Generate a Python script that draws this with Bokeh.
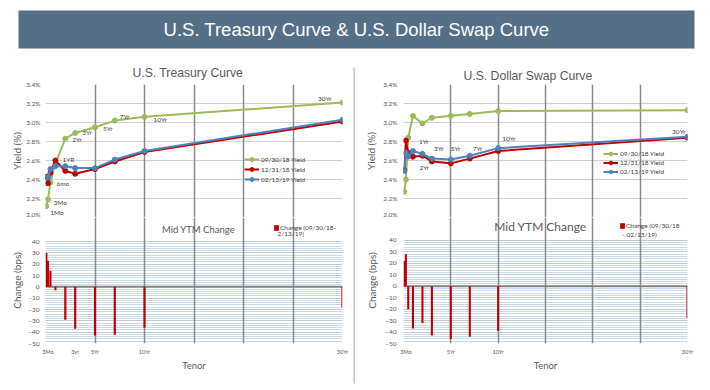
import numpy as np
from bokeh.plotting import figure
from bokeh.layouts import column, row
from bokeh.models import (Range1d, FixedTicker, PrintfTickFormatter, Label, Legend,
                          LegendItem, Span, ColumnDataSource, Title, Grid)
from bokeh.core.properties import value
from bokeh.embed import file_html
from bokeh.resources import INLINE

# ---------------- data ----------------
main_title = "U.S. Treasury Curve & U.S. Dollar Swap Curve"
series_names = ["09/30/18 Yield", "12/31/18 Yield", "02/13/19 Yield"]

# U.S. Treasury curve (tenor in years, yields in %)
tsy_tenor = [1 / 12, 0.25, 0.5, 1, 2, 3, 5, 7, 10, 30]
tsy_0930 = [2.12, 2.19, 2.37, 2.57, 2.83, 2.89, 2.95, 3.02, 3.06, 3.21]
tsy_1231 = [2.43, 2.36, 2.47, 2.60, 2.49, 2.46, 2.51, 2.59, 2.69, 3.01]
tsy_0213 = [2.42, 2.42, 2.51, 2.54, 2.54, 2.52, 2.52, 2.61, 2.70, 3.03]
tsy_change = [30, 23, 14, -3, -29, -37, -43, -42, -36, -18]
tsy_point_labels = ["1Mo", "3Mo", "6mo", "1YR", "2Yr", "3Yr", "5Yr", "7Yr", "10Yr", "30Yr"]
tsy_label_series = [0, 0, 0, 1, 0, 0, 0, 0, 0, 0]
tsy_xticks = [0.25, 3, 5, 10, 30]
tsy_xtick_labels = ["3Mo", "3yr", "5Yr", "10Yr", "30Yr"]
tsy_change_label = ["Change (09/30/18-", "2/13/19)"]

# U.S. Dollar swap curve
swp_tenor = [1 / 12, 0.25, 0.5, 1, 2, 3, 5, 7, 10, 30]
swp_0930 = [2.27, 2.40, 2.84, 3.07, 2.99, 3.05, 3.07, 3.09, 3.12, 3.13]
swp_1231 = [2.50, 2.81, 2.68, 2.64, 2.65, 2.59, 2.57, 2.62, 2.70, 2.84]
swp_0213 = [2.49, 2.68, 2.64, 2.70, 2.67, 2.62, 2.61, 2.65, 2.73, 2.85]
swp_change = [22, 28, -20, -37, -32, -43, -46, -44, -39, -28]
swp_point_labels = ["", "", "", "1Yr", "2Yr", "3Yr", "5Yr", "7Yr", "10Yr", "30Yr"]
swp_label_series = [2, 2, 2, 2, 1, 2, 2, 2, 2, 2]
swp_xticks = [0.25, 5, 10, 30]
swp_xtick_labels = ["3Mo", "5Yr", "10Yr", "30Yr"]
swp_change_label = ["Change (09/30/18", "- 02/13/19)"]

yield_ticks = [2.0, 2.2, 2.4, 2.6, 2.8, 3.0, 3.2, 3.4]
bps_ticks = [-50, -40, -30, -20, -10, 0, 10, 20, 30, 40]
tenor_grid = [0, 5, 10, 15, 20, 25, 30]

# ---------------- styles ----------------
COLORS = ["#9bbb59", "#c00000", "#4f81bd"]
BAR = "#c00000"
FONT = "Lato"
TFONT = "Liberation Sans"
GREY = "#595959"
DARK = "#404040"


def style_y(ax, label, tick_standoff, label_standoff):
    ax.axis_label = label
    ax.axis_label_text_font = FONT
    ax.axis_label_text_font_size = "10px"
    ax.axis_label_text_font_style = "normal"
    ax.axis_label_text_color = GREY
    ax.axis_label_standoff = label_standoff
    ax.major_label_text_font = FONT
    ax.major_label_text_font_size = "6.5px"
    ax.major_label_text_color = GREY
    ax.major_label_standoff = tick_standoff
    ax.axis_line_color = None
    ax.major_tick_line_color = None
    ax.minor_tick_line_color = None
    ax.major_tick_out = 0
    ax.major_tick_in = 0
    ax.minor_tick_out = 0


def grid_order(p):
    xg = p.xgrid[0]
    p.center = [r for r in p.center if r is not xg] + [xg]


def make_top(width, bl, br, tenor, series, labels, lab_series, offsets,
             title, title_offset, title_standoff, leg_loc, leg_row, tick_standoff,
             label_standoff):
    p = figure(width=width, height=159, x_range=Range1d(0, 30), y_range=Range1d(2.0, 3.4),
               x_axis_location=None, output_backend="svg", toolbar_location=None,
               min_border_left=bl, min_border_right=br, min_border_top=26, min_border_bottom=0,
               outline_line_color=None)
    p.title = Title(text=title, align="left", offset=title_offset, standoff=title_standoff,
                    text_font=TFONT, text_font_size="12.2px", text_font_style="normal",
                    text_color=GREY)
    p.yaxis.ticker = FixedTicker(ticks=yield_ticks)
    p.yaxis.formatter = PrintfTickFormatter(format="%.1f%%")
    style_y(p.yaxis[0], "Yield (%)", tick_standoff, label_standoff)
    p.ygrid.ticker = FixedTicker(ticks=yield_ticks)
    p.ygrid.grid_line_color = "#d0d0d0"
    p.ygrid.grid_line_width = 1
    p.xgrid.ticker = FixedTicker(ticks=tenor_grid)
    p.xgrid.grid_line_color = "#8a8a8a"
    p.xgrid.grid_line_width = 1.5
    grid_order(p)

    items = []
    for ys, c, n in zip(series, COLORS, series_names):
        l = p.line(tenor, ys, line_color=c, line_width=2)
        s = p.scatter(tenor, ys, marker="circle", size=5, fill_color=c, line_color=c)
        items.append(LegendItem(label=n, renderers=[l, s]))

    # point labels
    for align in ("left", "right"):
        xs, ys, ts, dx, dy = [], [], [], [], []
        for i, t in enumerate(labels):
            if not t or offsets[i][2] != align:
                continue
            xs.append(tenor[i])
            ys.append(series[lab_series[i]][i])
            ts.append(t)
            dx.append(offsets[i][0])
            dy.append(offsets[i][1])
        src = ColumnDataSource(dict(x=xs, y=ys, t=ts, dx=dx, dy=dy))
        p.text(x="x", y="y", text="t", x_offset="dx", y_offset="dy", source=src,
               text_font=value(FONT), text_font_size="6.5px", text_color=DARK,
               text_align=align, text_baseline="middle")

    leg = Legend(items=items, location=leg_loc, orientation="vertical", padding=0, margin=0,
                 spacing=0, glyph_width=15, glyph_height=leg_row, label_height=leg_row,
                 label_standoff=2, label_text_font=FONT, label_text_font_size="6.5px",
                 label_text_color=DARK, background_fill_alpha=0, border_line_color=None)
    p.add_layout(leg)
    return p


def make_bottom(width, bl, br, ytop, tenor, chg, xticks, xlabels, chg_label,
                mid_pos, mid_size, leg_loc, second_pos, tick_standoff, label_standoff):
    p = figure(width=width, height=173, x_range=Range1d(0, 30), y_range=Range1d(-50, ytop),
               output_backend="svg", toolbar_location=None,
               min_border_left=bl, min_border_right=br, min_border_top=0, min_border_bottom=47,
               outline_line_color=None)
    p.yaxis.ticker = FixedTicker(ticks=bps_ticks)
    style_y(p.yaxis[0], "Change (bps)", tick_standoff, label_standoff)
    ax = p.xaxis[0]
    ax.ticker = FixedTicker(ticks=xticks)
    ax.major_label_overrides = {k: v for k, v in zip(xticks, xlabels)}
    ax.major_label_text_font = FONT
    ax.major_label_text_font_size = "5.5px"
    ax.major_label_text_color = GREY
    ax.major_label_standoff = 5
    ax.major_tick_out = 0
    ax.major_tick_in = 0
    ax.minor_tick_out = 0
    ax.axis_label = "Tenor"
    ax.axis_label_text_font = FONT
    ax.axis_label_text_font_size = "9.5px"
    ax.axis_label_text_font_style = "normal"
    ax.axis_label_text_color = GREY
    ax.axis_label_standoff = 2
    ax.axis_line_color = None
    ax.major_tick_line_color = None
    ax.minor_tick_line_color = None

    # fine light-blue stripes with grey lines every 10 bps
    p.ygrid.ticker = FixedTicker(ticks=[float(v) for v in np.arange(-50, 40.01, 2)])
    p.ygrid.grid_line_color = "#c6dcee"
    p.ygrid.grid_line_width = 1
    p.add_layout(Grid(dimension=1, ticker=FixedTicker(ticks=bps_ticks),
                      grid_line_color="#c4c8cc", grid_line_width=1))
    p.xgrid.ticker = FixedTicker(ticks=tenor_grid)
    p.xgrid.grid_line_color = "#8a8a8a"
    p.xgrid.grid_line_width = 1.5
    grid_order(p)
    p.add_layout(Span(location=0, dimension="width", line_color="#808080", line_width=2,
                      level="underlay"))

    bars = p.vbar(x=tenor, top=chg, bottom=0, width=0.22, fill_color=BAR, line_color=None)
    leg = Legend(items=[LegendItem(label=chg_label[0], renderers=[bars])], location=leg_loc,
                 padding=0, margin=0, spacing=0, glyph_width=6, glyph_height=7,
                 label_height=8, label_standoff=1, label_text_font=FONT,
                 label_text_font_size="6.5px", label_text_color=DARK,
                 background_fill_alpha=0, border_line_color=None)
    p.add_layout(leg)
    p.add_layout(Label(x=second_pos[0], y=second_pos[1], text=chg_label[1], text_align="left",
                       text_baseline="middle", text_font=FONT, text_font_size="6.5px",
                       text_color=DARK))
    p.add_layout(Label(x=mid_pos[0], y=mid_pos[1], text="Mid YTM Change", text_align="center",
                       text_baseline="middle", text_font=FONT, text_font_size=mid_size,
                       text_color=GREY))
    return p


tsy_offsets = [(4, 6, "left"), (5.5, 3, "left"), (6, 1, "left"), (7, -1, "left"),
               (7, 1, "left"), (7, 0, "left"), (8, 1, "left"), (5, -4, "left"),
               (9, 3, "left"), (-11, -4, "right")]
swp_offsets = [(0, 0, "left"), (0, 0, "left"), (0, 0, "left"), (6, -10, "left"),
               (-3, 12, "left"), (2, -10, "left"), (0, -11, "left"), (3, -7, "left"),
               (4, -10, "left"), (-2, -5, "right")]

tL = make_top(352, 45, 10, tsy_tenor, [tsy_0930, tsy_1231, tsy_0213], tsy_point_labels,
              tsy_label_series, tsy_offsets, "U.S. Treasury Curve", 87, 10,
              (199, 33), 10, 5, 0)
bL = make_bottom(352, 45, 10, 61.2, tsy_tenor, tsy_change, tsy_xticks, tsy_xtick_labels,
                 tsy_change_label, (15.45, 50.6), "9.5px", (228, 112), (23.43, 47.1), 6, 2)

tR = make_top(355, 48, 23, swp_tenor, [swp_0930, swp_1231, swp_0213], swp_point_labels,
              swp_label_series, swp_offsets, "U.S. Dollar Swap Curve", 60, 3,
              (200, 41), 9, 6, 3)
bR = make_bottom(355, 48, 23, 60, swp_tenor, swp_change, swp_xticks, swp_xtick_labels,
                 swp_change_label, (14.47, 52.1), "12px", (216, 114), (23.13, 45.2), 7, 4)

# title bar
tb = figure(width=710, height=58, x_range=Range1d(0, 1), y_range=Range1d(0, 1),
            x_axis_location=None, y_axis_location=None, output_backend="svg",
            toolbar_location=None, min_border_left=18, min_border_right=16,
            min_border_top=10, min_border_bottom=10, outline_line_color=None,
            background_fill_color="#546f86")
tb.grid.visible = False
tb.add_layout(Label(x=0.5, y=0.5, text=main_title, text_align="center", text_baseline="middle",
                    text_font=TFONT, text_font_size="18.5px", text_color="white"))

# separator
sep = figure(width=3, height=332, x_range=Range1d(0, 1), y_range=Range1d(0, 1),
             x_axis_location=None, y_axis_location=None, output_backend="svg",
             toolbar_location=None, min_border_left=1, min_border_right=0,
             min_border_top=9, min_border_bottom=7, outline_line_color=None,
             background_fill_color="#c8c8c8")
sep.grid.visible = False

layout = column(tb, row(column(tL, bL), sep, column(tR, bR)))
open("out.html", "w").write(file_html(layout, INLINE))
